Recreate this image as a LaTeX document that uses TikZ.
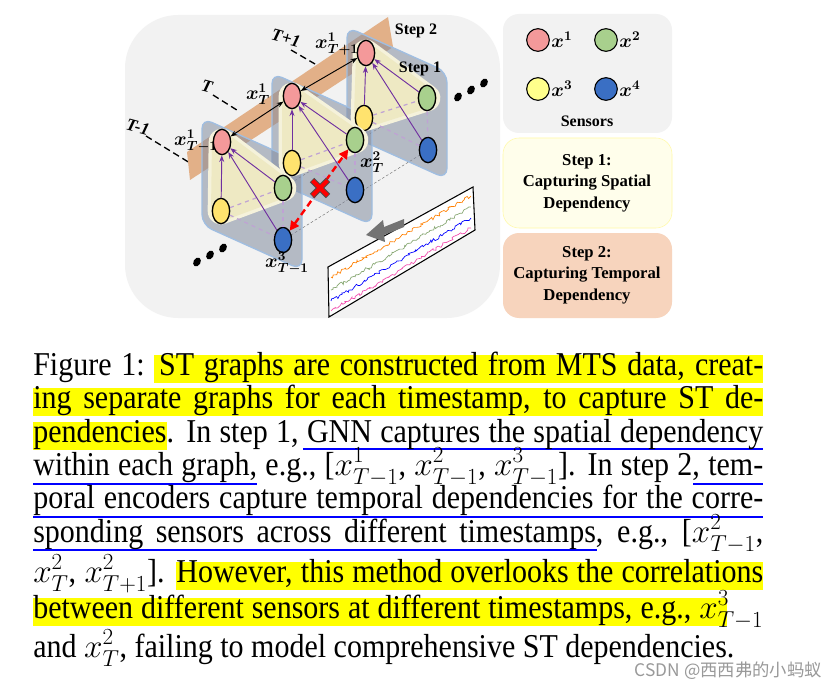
\documentclass[tikz,border=0pt]{standalone}
\usepackage{amsmath,bm}
\usepackage{fontspec}
\setmainfont{Liberation Serif}
\newfontfamily\capfont{Liberation Serif}[FakeStretch=0.9]
\newfontfamily\cjk{Noto Sans CJK SC}
\usetikzlibrary{shapes.geometric,arrows.meta,decorations.pathmorphing}
\definecolor{pnk}{HTML}{F4999A}\definecolor{grn}{HTML}{A8D08D}
\definecolor{ylw}{HTML}{FFE36E}\definecolor{blu}{HTML}{3A6FC4}
\definecolor{prp}{HTML}{7030A0}\definecolor{hl}{HTML}{FFFF00}
\definecolor{ul}{HTML}{0000FF}\definecolor{blob}{HTML}{EEE9C3}
\tikzset{
 sn/.style={ellipse,draw=black,line width=1pt,minimum width=13pt,minimum height=19pt,inner sep=0pt},
 ln/.style={circle,draw=black,line width=0.8pt,minimum size=17pt,inner sep=0pt},
 pa/.style={prp,line width=0.7pt,-{Stealth[length=5pt]}},
 pd/.style={prp!45,line width=0.9pt,dashed},
 gd/.style={black!60,line width=0.3pt,dash pattern=on 2pt off 1.5pt},
 lab/.style={font=\bfseries\fontsize{12}{14}\selectfont,align=center},
 xl/.style={font=\fontsize{14}{14}\selectfont,inner sep=1pt},
 tl/.style={font=\bfseries\itshape\fontsize{13}{13}\selectfont,rotate=-15},
 cl/.style={anchor=base west,inner sep=0pt,font=\capfont\fontsize{25}{28}\selectfont},
 hlr/.style={fill=hl},
 ulr/.style={ul,line width=2.2pt},
}
\begin{document}
\begin{tikzpicture}[x=0.75pt,y=-0.75pt]
\useasboundingbox (0,0) rectangle (833,692);
\fill[white] (0,0) rectangle (833,692);
% main box
\fill[black!5,rounded corners=40pt] (125,15) rectangle (500,318);
\fill[black!5,rounded corners=12pt] (503,14) rectangle (672,133);
\filldraw[fill=yellow!8,draw=yellow!35,rounded corners=12pt] (503,138) rectangle (672,228);
\fill[fill={rgb,255:red,247;green,212;blue,189},rounded corners=12pt] (503,233) rectangle (672,318);
% legend
\node[ln,fill=pnk] (l1) at (538,40) {}; \node[anchor=west,xl] (t1) at (l1.east) {$\bm{x^1}$};
\node[ln,fill=grn] (l2) at (606,40) {}; \node[anchor=west,xl] (t2) at (l2.east) {$\bm{x^2}$};
\node[ln,fill={rgb,255:red,255;green,255;blue,140}] (l3) at (538,89) {}; \node[anchor=west,xl] (t3) at (l3.east) {$\bm{x^3}$};
\node[ln,fill=blu] (l4) at (606,89) {}; \node[anchor=west,xl] (t4) at (l4.east) {$\bm{x^4}$};
\node[lab] (sens) at (587,121) {Sensors};
\node[lab,font=\bfseries\fontsize{12.5}{16}\selectfont] (s1) at (587,183) {Step 1:\\Capturing Spatial\\Dependency};
\node[lab,font=\bfseries\fontsize{12.5}{16}\selectfont] (s2) at (587,275) {Step 2:\\Capturing Temporal\\Dependency};
% time labels
\node[tl] (tm1) at (138,127) {T-1};
\node[tl] (tm2) at (207,86) {T};
\node[tl] (tm3) at (286,38) {T+1};
\draw[black,line width=1pt,dash pattern=on 5pt off 3pt] (146,136) -- (190,163);
\draw[black,line width=1pt,dash pattern=on 5pt off 3pt] (213,95) -- (240,112);
\draw[black,line width=1pt,dash pattern=on 5pt off 3pt] (291,50) -- (315,64);
% orange band
\fill[fill={rgb,255:red,222;green,160;blue,110},opacity=0.8] (187,152) -- (388,17) -- (393,47) -- (190,180) -- cycle;
% cross-panel thin dashed lines
\draw[gd] (221,211) -- (364,118);
\draw[gd] (283,188) -- (427,98);
\draw[gd] (283,240) -- (428,150);
% panels
\foreach \L/\T in {347/27,272/73,202/118}{
 \filldraw[fill={rgb,255:red,130;green,140;blue,160},fill opacity=0.55,draw={rgb,255:red,160;green,190;blue,225},line width=1pt,rounded corners=8pt]
 (\L,\T) -- (\L+100,\T+45) -- (\L+100,\T+152) -- (\L,\T+107) -- cycle;
}
% graphs
\foreach \i/\px/\py/\yx/\yy/\gx/\gy/\bx/\by in {3/366/53/364/118/427/98/428/150,2/292/96/292/163/355/140/355/190,1/222/142/221/211/283/188/283/240}{
 \draw[blob!60!white,line width=20pt,line join=round] (\px,\py) -- (\gx,\gy) -- (\yx,\yy) -- cycle;
 \filldraw[fill=blob,draw=blob,line width=15pt,line join=round] (\px,\py) -- (\gx,\gy) -- (\yx,\yy) -- cycle;
 \node[sn,fill=pnk] (p\i) at (\px,\py) {};
 \node[sn,fill=ylw] (y\i) at (\yx,\yy) {};
 \node[sn,fill=grn] (g\i) at (\gx,\gy) {};
 \node[sn,fill=blu] (b\i) at (\bx,\by) {};
 \draw[pd] (y\i) -- (g\i); \draw[pd] (y\i) -- (b\i); \draw[pd] (g\i) -- (b\i);
 \draw[pa] (y\i) -- (p\i); \draw[pa] (g\i) -- (p\i); \draw[pa] (b\i) -- (p\i);
}
\draw[{Stealth[length=5pt]}-{Stealth[length=5pt]},line width=0.7pt] (p1) -- (p2);
\draw[{Stealth[length=5pt]}-{Stealth[length=5pt]},line width=0.7pt] (p2) -- (p3);
% red dashed
\draw[red,line width=1.8pt,dash pattern=on 5pt off 3pt,{Triangle[length=7pt,width=7pt]}-{Triangle[length=7pt,width=7pt]}] (b1) -- (g2);
\coordinate (cx) at (320,188);
\draw[black!70,line width=4.6pt] ([shift={(-8,-8)}]cx) -- ([shift={(8,8)}]cx) ([shift={(-8,8)}]cx) -- ([shift={(8,-8)}]cx);
\draw[red,line width=3pt] ([shift={(-7.5,-7.5)}]cx) -- ([shift={(7.5,7.5)}]cx) ([shift={(-7.5,7.5)}]cx) -- ([shift={(7.5,-7.5)}]cx);
% node labels
\node[xl] (lx1) at (196,141) {$\bm{x^1_{T-1}}$};
\node[xl] (lx2) at (258,94) {$\bm{x^1_{T}}$};
\node[xl] (lx3) at (337,44) {$\bm{x^1_{T+1}}$};
\node[xl] (lx4) at (372,162) {$\bm{x^2_{T}}$};
\node[xl] (lx5) at (287,263) {$\bm{x^3_{T-1}}$};
\node[lab] (st2) at (416,31) {Step 2};
\node[lab] (st1) at (420,69) {Step 1};
% dots
\foreach \x/\y in {458/97,471/90,484/83,197/262,210/255,223/248}{\fill[rotate around={-30:(\x,\y)}] (\x,\y) ellipse (3.5 and 4.8);}
% time series card
\filldraw[fill=white,draw=black,line width=0.8pt] (328,267) -- (473,187) -- (475,230) -- (329,317) -- cycle;
\foreach \c/\a/\b in {orange/277/196,grn!80!black/290/207,blue/301/218,magenta!70/311/228}{
 \draw[\c,line width=0.5pt,decorate,decoration={random steps,segment length=1.5pt,amplitude=1.2pt}] (331,\a) -- (471,\b);
}
\fill[black!55] (366,235) -- (383,220) -- (384,227) -- (404,219) -- (404,227) -- (384,235) -- (385,242) -- cycle;
% caption highlights and underlines
\fill[hlr] (154,355) rectangle (763,383);
\fill[hlr] (33,388) rectangle (763,416);
\fill[hlr] (33,422) rectangle (167,450);
\fill[hlr] (176,562) rectangle (763,590);
\fill[hlr] (33,598) rectangle (727,626);
\draw[ulr] (303,449) -- (763,449);
\draw[ulr] (33,484) -- (257,484);
\draw[ulr] (693,484) -- (763,484);
\draw[ulr] (33,517) -- (763,517);
\draw[ulr] (33,550) -- (597,550);
% caption
\node[cl] (c1) at (33,375) {\makebox[547.5pt][s]{Figure 1: ST graphs are constructed from MTS data, creat-}};
\node[cl] (c2) at (33,408) {\makebox[547.5pt][s]{ing separate graphs for each timestamp, to capture ST de-}};
\node[cl] (c3) at (33,442) {\makebox[547.5pt][s]{pendencies. In step 1, GNN captures the spatial dependency}};
\node[cl] (c4) at (33,475) {\makebox[547.5pt][s]{within each graph, e.g., [$x^1_{T-1}$, $x^2_{T-1}$, $x^3_{T-1}$]. In step 2, tem-}};
\node[cl] (c5) at (33,508) {\makebox[547.5pt][s]{poral encoders capture temporal dependencies for the corre-}};
\node[cl] (c6) at (33,542) {\makebox[547.5pt][s]{sponding sensors across different timestamps, e.g., [$x^2_{T-1}$,}};
\node[cl] (c7) at (33,582) {\makebox[547.5pt][s]{$x^2_T$, $x^2_{T+1}$]. However, this method overlooks the correlations}};
\node[cl] (c8) at (33,618) {\makebox[547.5pt][s]{between different sensors at different timestamps, e.g., $x^3_{T-1}$}};
\node[cl] (c9) at (33,657) {and $x^2_T$, failing to model comprehensive ST dependencies.};
\node[anchor=base east,inner sep=0pt,text=black!40,font=\cjk\fontsize{13}{13}\selectfont] (wm) at (822,676) {CSDN @西西弗的小蚂蚁};
\end{tikzpicture}
\end{document}
